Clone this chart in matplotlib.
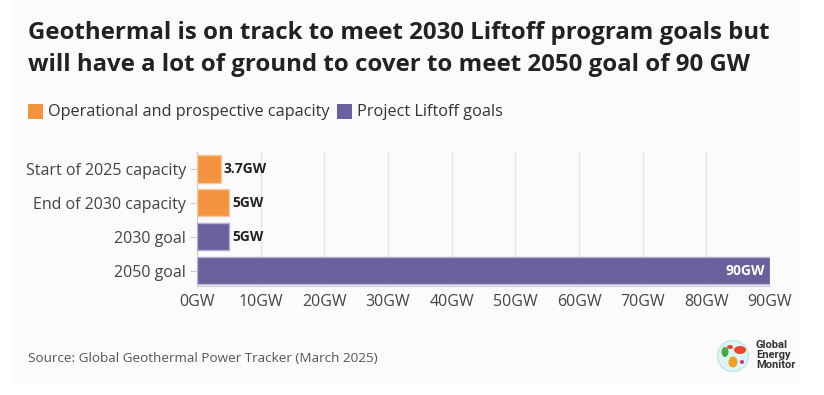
import matplotlib.pyplot as plt
from matplotlib.patches import Rectangle, Ellipse

categories = ["Start of 2025 capacity", "End of 2030 capacity", "2030 goal", "2050 goal"]
values = [3.7, 5, 5, 90]
labels = ["3.7GW", "5GW", "5GW", "90GW"]
groups = ["capacity", "capacity", "goal", "goal"]
xticks = [0, 10, 20, 30, 40, 50, 60, 70, 80, 90]

orange = "#F3923F"
purple = "#6B5F9E"
colors = {"capacity": orange, "goal": purple}
edges = {"capacity": "#F8C9A0", "goal": "#B5AED0"}

plt.rcParams['font.family'] = ['Open Sans', 'DejaVu Sans']

fig = plt.figure(figsize=(8.24, 3.95), dpi=100)
fig.patches.append(Rectangle((12 / 824, 12 / 395), 788 / 824, 383 / 395,
                             transform=fig.transFigure, facecolor="#FBFBFB",
                             edgecolor="none", zorder=-10))

ax = fig.add_axes([197 / 824, 1 - 286 / 395, 573 / 824, 134 / 395])
ax.patch.set_alpha(0)

ypos = range(len(categories))
ax.barh(ypos, values, height=0.8,
        color=[colors[g] for g in groups],
        edgecolor=[edges[g] for g in groups], linewidth=1, zorder=3)

for y, v, lab in zip(ypos, values, labels):
    if v > 50:
        ax.text(v - 0.8, y, lab, ha="right", va="center", fontsize=10,
                fontweight="bold", color="white", zorder=4)
    else:
        ax.text(v + 0.5, y, lab, ha="left", va="center", fontsize=10,
                fontweight="bold", color="#222222", zorder=4)

ax.set_xlim(0, 90)
ax.set_ylim(3.45, -0.5)
ax.set_yticks(list(ypos))
ax.set_yticklabels(categories, fontsize=11.5, color="#444444")
ax.set_xticks(xticks)
ax.set_xticklabels([f"{t}GW" for t in xticks], fontsize=11.5, color="#444444")
ax.grid(axis="x", color="#E3E3E3", linewidth=1, zorder=0)
for s in ["top", "right"]:
    ax.spines[s].set_visible(False)
ax.spines["left"].set_color("#CCCCCC")
ax.spines["bottom"].set_color("#CCCCCC")
ax.tick_params(axis="y", length=5, color="#CCCCCC", pad=3)
ax.tick_params(axis="x", length=0, pad=6)

fig.text(28 / 824, 1 - 33 / 395,
         "Geothermal is on track to meet 2030 Liftoff program goals but",
         fontsize=17.3, fontweight="bold", color="#222222", va="center")
fig.text(28 / 824, 1 - 65 / 395,
         "will have a lot of ground to cover to meet 2050 goal of 90 GW",
         fontsize=17.3, fontweight="bold", color="#222222", va="center")

# legend
fig.patches.append(Rectangle((28 / 824, 1 - 119 / 395), 15 / 824, 15 / 395,
                             transform=fig.transFigure, facecolor=orange, edgecolor="none"))
fig.text(48 / 824, 1 - 112 / 395, "Operational and prospective capacity",
         fontsize=11.7, color="#333333", va="center")
fig.patches.append(Rectangle((337 / 824, 1 - 119 / 395), 15 / 824, 15 / 395,
                             transform=fig.transFigure, facecolor=purple, edgecolor="none"))
fig.text(357 / 824, 1 - 112 / 395, "Project Liftoff goals",
         fontsize=11.7, color="#333333", va="center")

fig.text(28 / 824, 1 - 358 / 395, "Source: Global Geothermal Power Tracker (March 2025)",
         fontsize=9.7, color="#555555", va="center")

# logo
lx, ly = 733, 356
fig.patches.append(Ellipse((lx / 824, 1 - ly / 395), 31 / 824, 31 / 395,
                           transform=fig.transFigure, facecolor="#DDF3F4",
                           edgecolor="#BFE6E8", linewidth=1))
for dx, dy, w, h, c in [(-8, -4, 7, 10, "#4BA846"), (0, 6, 9, 11, "#F0A21E"),
                        (7, -6, 12, 8, "#E8472E"), (9, 6, 4, 4, "#C2388F"),
                        (-3, -9, 6, 4, "#E8472E")]:
    fig.patches.append(Ellipse(((lx + dx) / 824, 1 - (ly + dy) / 395), w / 824, h / 395,
                               transform=fig.transFigure, facecolor=c, edgecolor="none"))
fig.text(756 / 824, 1 - 355 / 395, "Global\nEnergy\nMonitor", fontsize=8,
         fontweight="bold", color="#333333", va="center", linespacing=0.95,
         family=["Roboto", "DejaVu Sans"])

fig.savefig("out.png", dpi=100, facecolor="white")
